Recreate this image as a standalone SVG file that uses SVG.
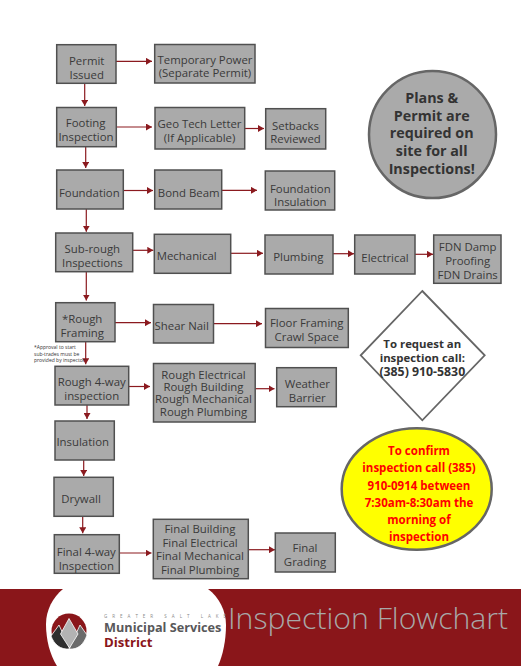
<svg xmlns="http://www.w3.org/2000/svg" width="521" height="666" viewBox="0 0 521 666">
<style>
text{font-family:"Open Sans","Liberation Sans",sans-serif;text-anchor:middle}
.b rect{fill:#aaa;stroke:#505050;stroke-width:1.5}
.b text{font-size:11.4px;fill:#3a3a3a}
.c line{stroke:#8b1a1f;stroke-width:1.2}
.n{font-size:14.3px;font-weight:700;fill:#333}
.r{font-weight:700;fill:#333}
.y text{font-size:11.5px;font-weight:700;fill:#f00}
.s{font-size:5px;fill:#333;text-anchor:start}
</style>
<defs><marker id="a" markerUnits="userSpaceOnUse" markerWidth="7" markerHeight="7" refX="6" refY="3.5" orient="auto"><path d="M0 0L6 3.500L0 7Z" fill="#8b1a1f"/></marker></defs>
<rect width="521" height="666" fill="#fff"/>
<g id="connectors" class="c">
<line x1="116" y1="61.300" x2="152" y2="61.300" marker-end="url(#a)"/>
<line x1="84.700" y1="84" x2="84.700" y2="106" marker-end="url(#a)"/>
<line x1="116.500" y1="127" x2="152" y2="127" marker-end="url(#a)"/>
<line x1="85.700" y1="147" x2="85.700" y2="168" marker-end="url(#a)"/>
<line x1="245" y1="128.500" x2="264" y2="128.500" marker-end="url(#a)"/>
<line x1="123.500" y1="190.500" x2="153" y2="190.500" marker-end="url(#a)"/>
<line x1="222" y1="190.300" x2="257" y2="190.300" marker-end="url(#a)"/>
<line x1="86.300" y1="209" x2="86.300" y2="231.700" marker-end="url(#a)"/>
<line x1="133" y1="250.300" x2="153.300" y2="250.300" marker-end="url(#a)"/>
<line x1="231" y1="253.300" x2="263" y2="253.300" marker-end="url(#a)"/>
<line x1="333" y1="253.700" x2="354" y2="253.700" marker-end="url(#a)"/>
<line x1="415" y1="254.300" x2="433" y2="254.300" marker-end="url(#a)"/>
<line x1="86.300" y1="272" x2="86.300" y2="300.500" marker-end="url(#a)"/>
<line x1="115" y1="322.700" x2="151" y2="322.700" marker-end="url(#a)"/>
<line x1="213.500" y1="323.700" x2="262" y2="323.700" marker-end="url(#a)"/>
<line x1="85.700" y1="342" x2="85.700" y2="364.300" marker-end="url(#a)"/>
<line x1="129" y1="386.500" x2="150" y2="386.500" marker-end="url(#a)"/>
<line x1="255.500" y1="388.700" x2="274.500" y2="388.700" marker-end="url(#a)"/>
<line x1="87" y1="405" x2="87" y2="419" marker-end="url(#a)"/>
<line x1="83.700" y1="460" x2="83.700" y2="476" marker-end="url(#a)"/>
<line x1="82.700" y1="516.500" x2="82.700" y2="533.300" marker-end="url(#a)"/>
<line x1="119.500" y1="553" x2="151.500" y2="553" marker-end="url(#a)"/>
<line x1="248.500" y1="549.700" x2="275" y2="549.700" marker-end="url(#a)"/>
</g>
<g id="permit" class="b"><rect x="56.700" y="44.700" width="59.300" height="38.600"/><text x="86.700" y="65">Permit</text><text x="86.700" y="79">Issued</text></g>
<g id="temp-power" class="b"><rect x="154.700" y="44.500" width="100.300" height="38.500"/><text x="205" y="63.500">Temporary Power</text><text x="205" y="77">(Separate Permit)</text></g>
<g id="footing" class="b"><rect x="56.700" y="107.500" width="59.600" height="39.200"/><text x="85.700" y="127">Footing</text><text x="86" y="141">Inspection</text></g>
<g id="geotech" class="b"><rect x="155" y="107.500" width="89.700" height="41.500"/><text x="199.500" y="128">Geo Tech Letter</text><text x="199.500" y="142">(If Applicable)</text></g>
<g id="setbacks" class="b"><rect x="265.700" y="108.700" width="60" height="40.300"/><text x="295.500" y="129.500">Setbacks</text><text x="295.500" y="143">Reviewed</text></g>
<g id="foundation" class="b"><rect x="56.700" y="170" width="66.600" height="39"/><text x="89.300" y="197">Foundation</text></g>
<g id="bond-beam" class="b"><rect x="154.700" y="170" width="67" height="39"/><text x="188.700" y="197">Bond Beam</text></g>
<g id="fdn-insulation" class="b"><rect x="265.300" y="171" width="69.400" height="39"/><text x="300.300" y="192.500">Foundation</text><text x="300.300" y="206">Insulation</text></g>
<g id="subrough" class="b"><rect x="55.700" y="233" width="77" height="38.700"/><text x="92.300" y="253">Sub-rough</text><text x="92.300" y="267">Inspections</text></g>
<g id="mechanical" class="b"><rect x="154.300" y="234.300" width="76.400" height="39"/><text x="186.700" y="260">Mechanical</text></g>
<g id="plumbing" class="b"><rect x="265" y="235" width="68" height="39"/><text x="298.300" y="261">Plumbing</text></g>
<g id="electrical" class="b"><rect x="354.700" y="235" width="60.300" height="39"/><text x="385" y="261.500">Electrical</text></g>
<g id="fdn-damp" class="b"><rect x="433.700" y="235" width="67.300" height="48.300"/><text x="467.700" y="251">FDN Damp</text><text x="467.700" y="265">Proofing</text><text x="467.700" y="279">FDN Drains</text></g>
<g id="rough-framing" class="b"><rect x="55.700" y="302.700" width="59.300" height="39"/><text x="82.200" y="323">*Rough</text><text x="82.300" y="337">Framing</text></g>
<g id="shear" class="b"><rect x="153.500" y="304.500" width="60" height="38.500"/><text x="181.700" y="330">Shear Nail</text></g>
<g id="floor" class="b"><rect x="265.500" y="308.500" width="82.800" height="39"/><text x="306.700" y="327">Floor Framing</text><text x="306.700" y="340.500">Crawl Space</text></g>
<g id="rough-4way" class="b"><rect x="55" y="366.300" width="73.700" height="38.700"/><text x="91.700" y="386">Rough 4-way</text><text x="91.700" y="400">inspection</text></g>
<g id="rough-list" class="b"><rect x="153.500" y="363.500" width="101.700" height="58.500"/><text x="203.500" y="379">Rough Electrical</text><text x="203.500" y="391">Rough Building</text><text x="203.500" y="403">Rough Mechanical</text><text x="203.500" y="416">Rough Plumbing</text></g>
<g id="weather" class="b"><rect x="276.700" y="367.700" width="59.600" height="39"/><text x="307.300" y="387.500">Weather</text><text x="307.300" y="401.500">Barrier</text></g>
<g id="insulation" class="b"><rect x="55" y="421" width="59.300" height="39"/><text x="82.700" y="446">Insulation</text></g>
<g id="drywall" class="b"><rect x="54" y="477.300" width="59.300" height="39"/><text x="81" y="503">Drywall</text></g>
<g id="final-4way" class="b"><rect x="54.300" y="534.700" width="65" height="38.600"/><text x="86.300" y="556">Final 4-way</text><text x="86.300" y="570">Inspection</text></g>
<g id="final-list" class="b"><rect x="153.300" y="519.300" width="95" height="59.400"/><text x="200" y="532.500">Final Building</text><text x="200" y="546.500">Final Electrical</text><text x="200" y="560">Final Mechanical</text><text x="200" y="574">Final Plumbing</text></g>
<g id="final-grading" class="b"><rect x="275.300" y="533" width="60" height="39"/><text x="305" y="552">Final</text><text x="305" y="566">Grading</text></g>
<text class="s" x="34" y="349">*Approval to start</text>
<text class="s" x="34" y="355.500">sub-trades must be</text>
<text class="s" x="34" y="362">provided by inspector</text>
<g id="plans-note"><circle cx="432.500" cy="134.600" r="63.500" fill="#aaa" stroke="#666" stroke-width="2.500"/>
<text class="n" x="431.700" y="102.500">Plans &amp;</text><text class="n" x="431.700" y="120.500">Permit are</text><text class="n" x="431.700" y="138">required on</text><text class="n" x="431.700" y="156">site for all</text><text class="n" x="431.700" y="174">Inspections!</text></g>
<g id="request-note"><path d="M422.300 291L484.700 355.300L422.300 420.300L360.700 355.300Z" fill="#fff" stroke="#666" stroke-width="1.800"/>
<text class="r" x="422.300" y="347.500" font-size="11.400">To request an</text><text class="r" x="422.300" y="361.500" font-size="11.400">inspection call:</text><text class="r" x="422.300" y="375.500" font-size="12.300">(385) 910-5830</text></g>
<g id="confirm-note" class="y"><ellipse cx="416.700" cy="489" rx="75" ry="60.700" fill="#ff0" stroke="#666" stroke-width="2.500"/>
<text x="419" y="454.500">To confirm</text><text x="419" y="472">inspection call (385)</text><text x="419" y="489.500">910-0914 between</text><text x="419" y="506.500">7:30am-8:30am the</text><text x="419" y="524">morning of</text><text x="419" y="541">inspection</text></g>
<g id="banner"><rect y="589" width="521" height="77" fill="#8a161a"/>
<path d="M63 589H208C219 597 226 611 226 625C226 640 223 655 218 666H57C50 655 46 640 46 624C46 610 53 597 63 589Z" fill="#fff"/>
<circle cx="69" cy="631" r="17.500" fill="#8a161a"/>
<path d="M51 636L59 625L70 649C60 650 54 644 51 636Z" fill="#2e2e2e" stroke="#fff" stroke-width=".8"/>
<path d="M87 635L80 625L69 649C78 650 84 644 87 635Z" fill="#6b6b6b" stroke="#fff" stroke-width=".8"/>
<path d="M69 618.500L78 634L69.500 648L60.500 634Z" fill="#b3b3b3" stroke="#fff" stroke-width=".8"/>
<text x="104" y="618" font-size="4.500" letter-spacing="5" fill="#888" style="text-anchor:start">GREATER SALT LAKE</text>
<text x="104" y="631.700" font-size="12.700" font-weight="700" fill="#58585a" style="text-anchor:start">Municipal Services</text>
<text x="104" y="646.700" font-size="13.200" font-weight="700" fill="#8a161a" style="text-anchor:start">District</text>
<text x="228" y="629" font-size="30.200" font-weight="300" fill="#a8a8a8" style="text-anchor:start">Inspection Flowchart</text></g>
</svg>
